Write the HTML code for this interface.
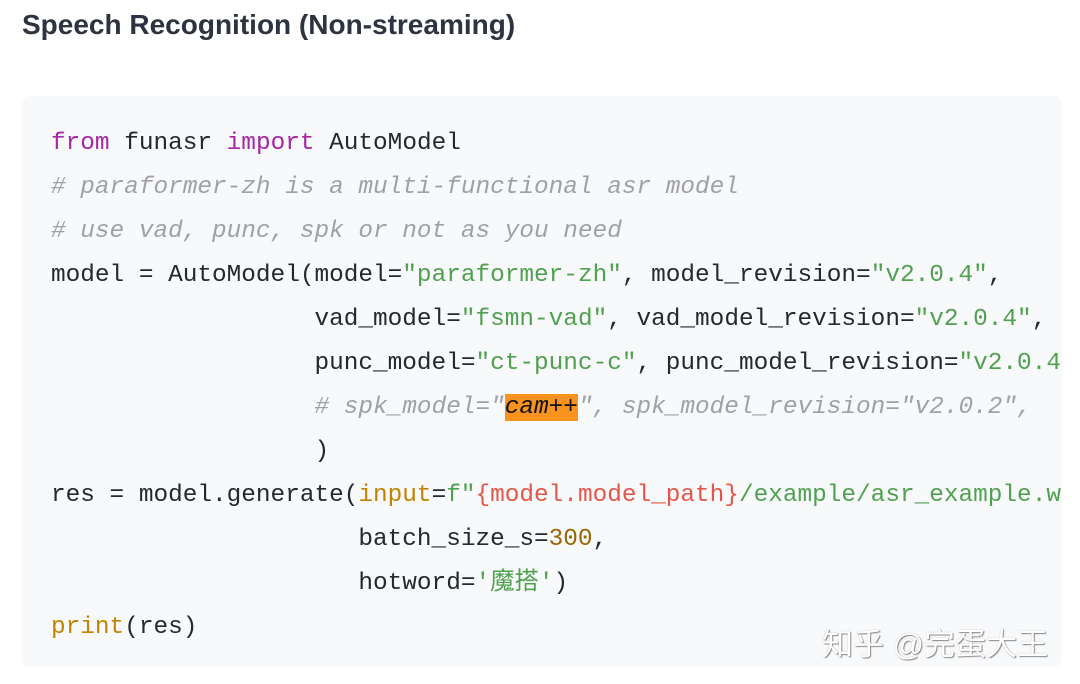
<!DOCTYPE html>
<html><head><meta charset="utf-8"><style>
body{margin:0;width:1080px;height:684px;background:#fff;overflow:hidden;position:relative;font-family:"Liberation Sans",sans-serif}
h1{position:absolute;left:22px;top:9px;margin:0;font-size:28px;font-weight:bold;color:#2d3340;letter-spacing:0}
.box{position:absolute;left:22px;top:96px;width:1040px;height:571px;background:#f8f9fb;border-radius:8px;overflow:hidden}
pre{position:absolute;left:29px;top:26px;margin:0;font-family:"Liberation Mono","Noto Sans CJK SC",monospace;font-size:24.4px;line-height:44px;color:#24292e;white-space:pre}
.k{color:#a626a4}.c{color:#a0a1a7;font-style:italic}.s{color:#50a14f}.o{color:#c18401}.n{color:#986801}.r{color:#e45649}
.h{background:#f7931e;color:#111}
.wm{position:absolute;left:822px;top:619px;font-family:"Liberation Sans","Noto Sans CJK SC",sans-serif;font-size:31px;color:#fff;text-shadow:1px 1px 1px #888,0 0 1px #aaa}
</style></head><body>
<h1>Speech Recognition (Non-streaming)</h1>
<div class="box">
<pre><span class="k">from</span> funasr <span class="k">import</span> AutoModel
<span class="c"># paraformer-zh is a multi-functional asr model</span>
<span class="c"># use vad, punc, spk or not as you need</span>
model = AutoModel(model=<span class="s">"paraformer-zh"</span>, model_revision=<span class="s">"v2.0.4"</span>,
                  vad_model=<span class="s">"fsmn-vad"</span>, vad_model_revision=<span class="s">"v2.0.4"</span>,
                  punc_model=<span class="s">"ct-punc-c"</span>, punc_model_revision=<span class="s">"v2.0.4"</span>
                  <span class="c"># spk_model="<span class="h">cam++</span>", spk_model_revision="v2.0.2",</span>
                  )
res = model.generate(<span class="o">input</span>=<span class="s">f"</span><span class="r">{model.model_path}</span><span class="s">/example/asr_example.wav"</span>,
                     batch_size_s=<span class="n">300</span>,
                     hotword=<span class="s">'魔搭'</span>)
<span class="o">print</span>(res)</pre>
</div>
<div class="wm">知乎 @完蛋大王</div>
</body></html>
